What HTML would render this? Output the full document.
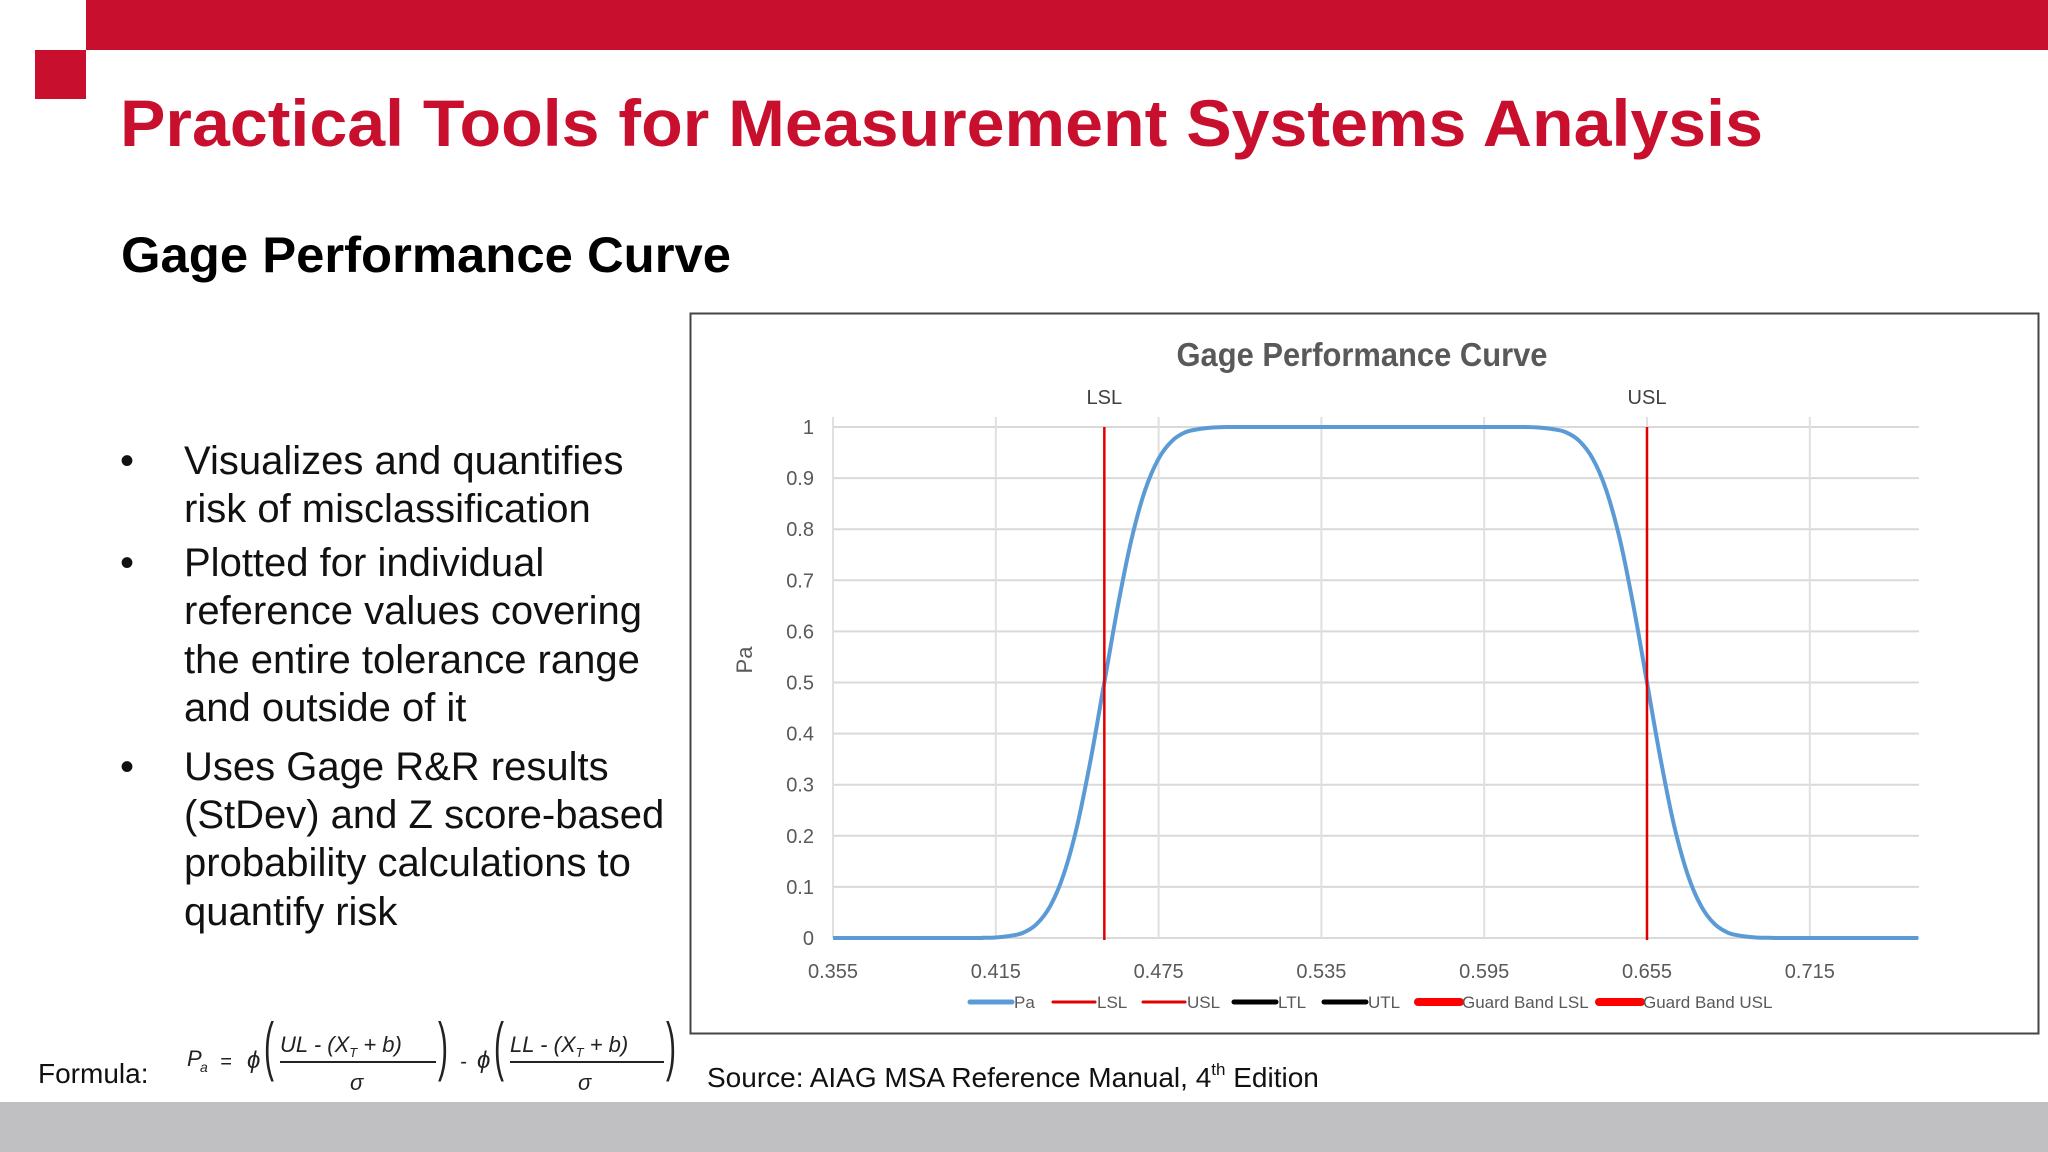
<!DOCTYPE html>
<html><head><meta charset="utf-8"><style>
html,body{margin:0;padding:0;background:#fff;}
svg{display:block;}
text{font-family:"Liberation Sans",sans-serif;}
</style></head><body>
<svg id="page" width="2048" height="1152" viewBox="0 0 2048 1152">
<rect x="86" y="0" width="1962" height="50" fill="#c8102e"/>
<rect x="35" y="50" width="51" height="49" fill="#c8102e"/>
<text x="120" y="146" font-size="66" font-weight="bold" fill="#c8102e" textLength="1643" lengthAdjust="spacingAndGlyphs">Practical Tools for Measurement Systems Analysis</text>
<text x="121" y="272" font-size="50" font-weight="bold" fill="#000" textLength="610" lengthAdjust="spacingAndGlyphs">Gage Performance Curve</text>
<g font-size="40" fill="#111">
<text x="120" y="474">•</text><text x="184" y="474">Visualizes and quantifies</text>
<text x="184" y="522">risk of misclassification</text>
<text x="120" y="576">•</text><text x="184" y="576">Plotted for individual</text>
<text x="184" y="624">reference values covering</text>
<text x="184" y="673">the entire tolerance range</text>
<text x="184" y="721">and outside of it</text>
<text x="120" y="780">•</text><text x="184" y="780">Uses Gage R&amp;R results</text>
<text x="184" y="828">(StDev) and Z score-based</text>
<text x="184" y="876">probability calculations to</text>
<text x="184" y="925">quantify risk</text>
</g>
<rect x="690.5" y="313.5" width="1348" height="720" fill="#fff" stroke="#444" stroke-width="2"/>
<g id="chart"></g>
<rect x="0" y="1102" width="2048" height="50" fill="#c0bfc1"/>
<text x="38" y="1083" font-size="28" fill="#111">Formula:</text>
<g fill="#222" style="font-family:'Liberation Serif',serif;font-style:italic">
<text x="187" y="1066" font-size="22">P</text>
<text x="200" y="1072" font-size="14">a</text>
<text x="220" y="1068" font-size="20">=</text>
<text x="247" y="1068" font-size="24">ϕ</text>
<text x="264" y="1068" font-size="50" font-style="normal" transform="translate(264,1068) scale(0.6,1.3) translate(-264,-1068)">(</text>
<text x="280" y="1052" font-size="22">UL - (X<tspan font-size="13" dy="5">T</tspan><tspan dy="-5"> + b)</tspan></text>
<line x1="280" y1="1062" x2="436" y2="1062" stroke="#222" stroke-width="2"/>
<text x="350" y="1090" font-size="22">σ</text>
<text x="438" y="1068" font-size="50" font-style="normal" transform="translate(438,1068) scale(0.6,1.3) translate(-438,-1068)">)</text>
<text x="460" y="1068" font-size="20">-</text>
<text x="477" y="1068" font-size="24">ϕ</text>
<text x="494" y="1068" font-size="50" font-style="normal" transform="translate(494,1068) scale(0.6,1.3) translate(-494,-1068)">(</text>
<text x="510" y="1052" font-size="22">LL - (X<tspan font-size="13" dy="5">T</tspan><tspan dy="-5"> + b)</tspan></text>
<line x1="510" y1="1062" x2="664" y2="1062" stroke="#222" stroke-width="2"/>
<text x="578" y="1090" font-size="22">σ</text>
<text x="666" y="1068" font-size="50" font-style="normal" transform="translate(666,1068) scale(0.6,1.3) translate(-666,-1068)">)</text>
</g>
<text x="707" y="1087" font-size="28" fill="#111">Source: AIAG MSA Reference Manual, 4<tspan font-size="17" dy="-12">th</tspan><tspan dy="12"> Edition</tspan></text>
</svg>
<script>
const xTicks=[0.355,0.415,0.475,0.535,0.595,0.655,0.715];
const yTicks=[0,0.1,0.2,0.3,0.4,0.5,0.6,0.7,0.8,0.9,1];
const specNames=["LSL","USL"];
const specValues=[0.455,0.655];
const paX=[0.355,0.405,0.410,0.415,0.420,0.425,0.430,0.435,0.440,0.445,0.450,0.455,0.460,0.465,0.470,0.475,0.480,0.485,0.490,0.495,0.500,0.510,0.600,0.610,0.615,0.620,0.625,0.630,0.635,0.640,0.645,0.650,0.655,0.660,0.665,0.670,0.675,0.680,0.685,0.690,0.695,0.700,0.705,0.715,0.755];
const paY=[0,0,0.0003,0.001,0.004,0.01,0.027,0.062,0.124,0.22,0.35,0.5,0.65,0.78,0.876,0.938,0.973,0.99,0.996,0.999,1,1,1,1,0.999,0.996,0.99,0.973,0.938,0.876,0.78,0.65,0.5,0.35,0.22,0.124,0.062,0.027,0.01,0.004,0.001,0.0003,0,0,0];
const legendNames=["Pa","LSL","USL","LTL","UTL","Guard Band LSL","Guard Band USL"];
const legendColors=["#5b9bd5","#e00000","#e00000","#000","#000","#ff0000","#ff0000"];
const legendWidths=[5,3,3,5,5,8,8];
const legendPos=[970,1053,1143,1234,1324,1418,1599];

const NS="http://www.w3.org/2000/svg";
const g=document.getElementById('chart');
const X0=833,XPX=162.8/0.06,Y0=938,Y1=427,PLOT_L=833,PLOT_R=1919;
const sx=v=>X0+(v-0.355)*XPX;
const sy=v=>Y0-(Y0-Y1)*v;
function mk(tag,attrs,parent){const e=document.createElementNS(NS,tag);for(const k in attrs)e.setAttribute(k,attrs[k]);(parent||g).appendChild(e);return e;}

yTicks.forEach(t=>{
  const l=mk('line',{x1:PLOT_L,x2:PLOT_R,y1:sy(t),y2:sy(t),stroke:'#d9d9d9','stroke-width':2});
  
  
  const tx=mk('text',{x:814,y:sy(t)+7,'font-size':20,fill:'#595959','text-anchor':'end'});
  tx.textContent=String(t);
  
  
});
xTicks.forEach(t=>{
  const l=mk('line',{x1:sx(t),x2:sx(t),y1:Y1-10,y2:Y0,stroke:'#e0e0e0','stroke-width':2});
  
  
  const tx=mk('text',{x:sx(t),y:978,'font-size':20,fill:'#595959','text-anchor':'middle'});
  tx.textContent=t.toFixed(3);
  
  
});
const title=mk('text',{x:1362,y:366,'font-size':33,'font-weight':'bold',fill:'#595959','text-anchor':'middle',textLength:371,lengthAdjust:'spacingAndGlyphs'});
title.textContent='Gage Performance Curve';


const yl=mk('text',{x:0,y:0,'font-size':22,fill:'#595959','text-anchor':'middle',transform:'translate(752,660) rotate(-90)'});
yl.textContent='Pa';



const pts=paX.map((v,i)=>[sx(v),sy(paY[i])]);
let d='M'+pts[0][0].toFixed(1)+','+pts[0][1].toFixed(1);
for(let i=0;i<pts.length-1;i++){
  const p0=pts[Math.max(0,i-1)],p1=pts[i],p2=pts[i+1],p3=pts[Math.min(pts.length-1,i+2)];
  const c1x=p1[0]+(p2[0]-p0[0])/6,c1y=p1[1]+(p2[1]-p0[1])/6;
  const c2x=p2[0]-(p3[0]-p1[0])/6,c2y=p2[1]-(p3[1]-p1[1])/6;
  d+='C'+c1x.toFixed(1)+','+Math.min(Y0,Math.max(Y1,c1y)).toFixed(1)+' '+c2x.toFixed(1)+','+Math.min(Y0,Math.max(Y1,c2y)).toFixed(1)+' '+p2[0].toFixed(1)+','+p2[1].toFixed(1);
}
const curve=mk('path',{d:d,fill:'none',stroke:'#5b9bd5','stroke-width':4,'stroke-linejoin':'round'});



specValues.forEach((v,i)=>{
  const l=mk('line',{x1:sx(v),x2:sx(v),y1:Y1,y2:Y0+2,stroke:'#e00000','stroke-width':2.5});
  
  
  const t=mk('text',{x:sx(v),y:404,'font-size':20,fill:'#404040','text-anchor':'middle'});
  t.textContent=specNames[i];
  
  
});

legendNames.forEach((n,i)=>{
  const x=legendPos[i];
  const l=mk('line',{x1:x,x2:x+42,y1:1002,y2:1002,stroke:legendColors[i],'stroke-width':legendWidths[i],'stroke-linecap':'round'});
  
  
  const t=mk('text',{x:x+44,y:1008,'font-size':17,fill:'#595959'});
  t.textContent=n;
  
  
});
</script>
</body></html>
